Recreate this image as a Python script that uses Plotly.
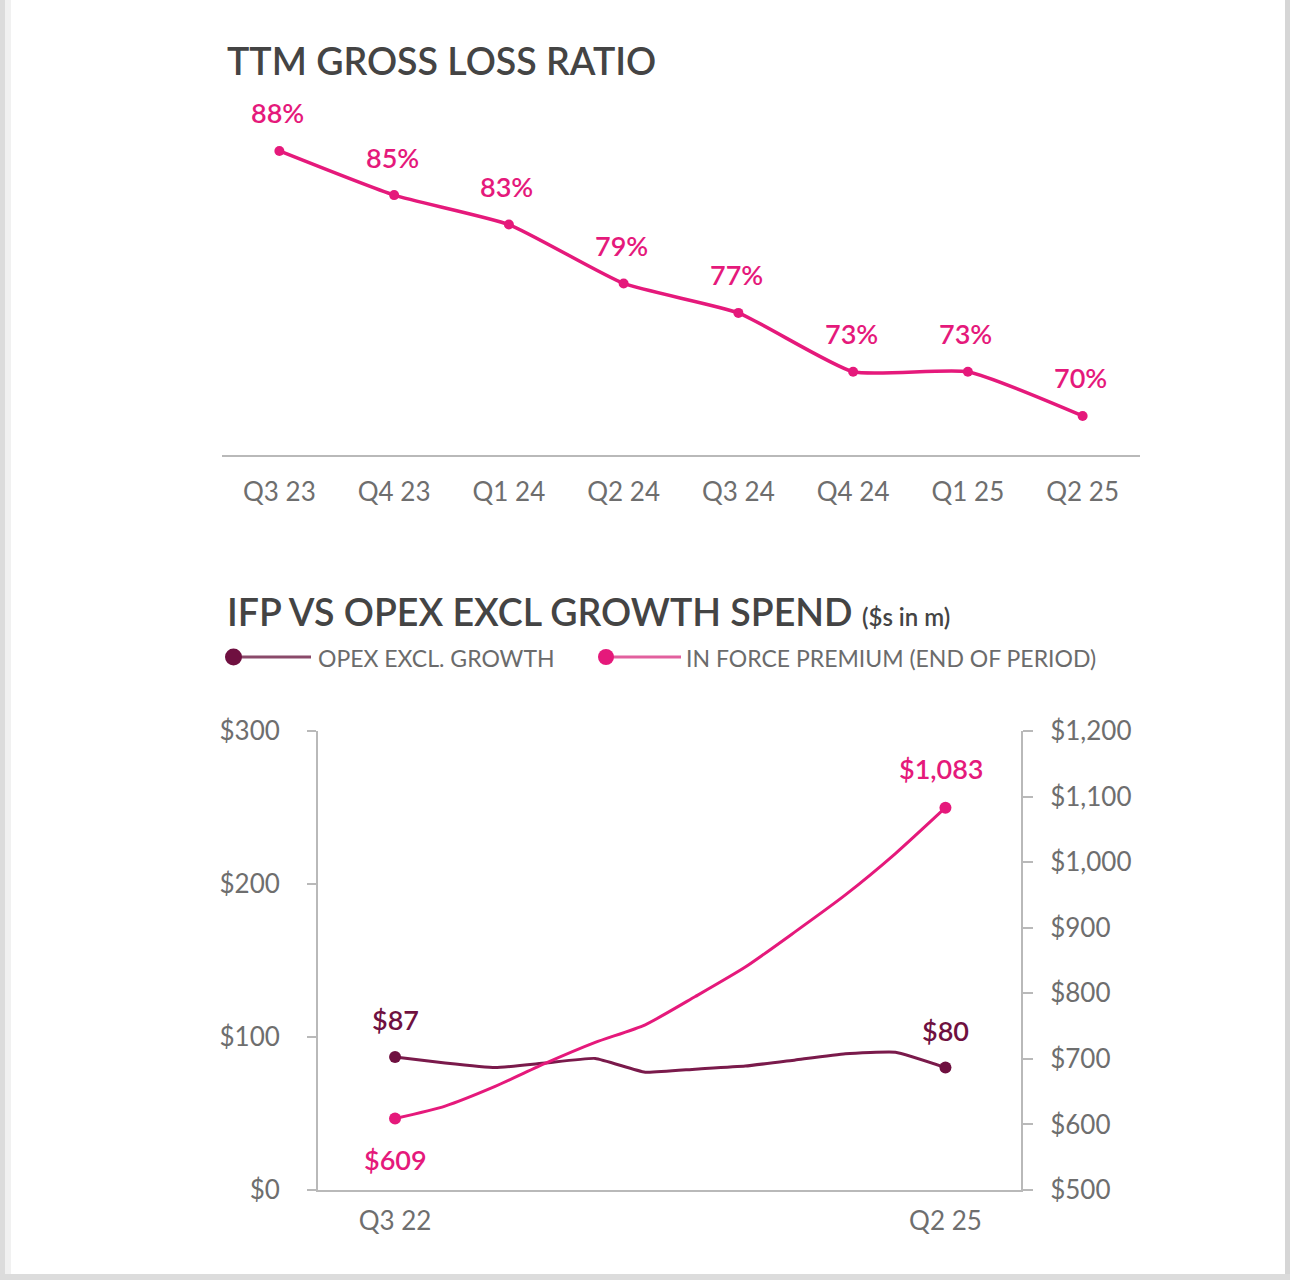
import plotly.graph_objects as go

# ---------------- data ----------------
top_quarters = ["Q3 23", "Q4 23", "Q1 24", "Q2 24", "Q3 24", "Q4 24", "Q1 25", "Q2 25"]
loss_ratio = [88, 85, 83, 79, 77, 73, 73, 70]

bottom_quarters = ["Q3 22", "Q4 22", "Q1 23", "Q2 23", "Q3 23", "Q4 23",
                   "Q1 24", "Q2 24", "Q3 24", "Q4 24", "Q1 25", "Q2 25"]
opex_excl_growth = [87, 83, 80, 83, 86, 77, 79, 81, 85, 89, 90, 80]
in_force_premium = [609, 628, 658, 693, 725, 752, 795, 840, 894, 950, 1013, 1083]

left_ticks = [0, 100, 200, 300]
right_ticks = [500, 600, 700, 800, 900, 1000, 1100, 1200]

# ---------------- style ----------------
W, H = 1290, 1280
PINK = "#E5197B"
DARK = "#6F1040"
DARK_LINE = "#7A1A4B"
GREY_TXT = "#6b6b6b"
TITLE_TXT = "#444444"
AXIS = "#b9b9b9"
FONT = "Lato"


def px(x):
    return x / W


def py(y):
    return 1 - y / H


fig = go.Figure()

# top chart
fig.add_trace(go.Scatter(
    x=top_quarters, y=loss_ratio, mode="lines+markers",
    line=dict(color=PINK, width=3.5, shape="spline", smoothing=0.5),
    marker=dict(color=PINK, size=10),
    xaxis="x", yaxis="y", showlegend=False, hoverinfo="skip"))

# bottom chart
fig.add_trace(go.Scatter(
    x=bottom_quarters, y=opex_excl_growth, mode="lines",
    line=dict(color=DARK_LINE, width=3, shape="spline", smoothing=0.4),
    xaxis="x2", yaxis="y2", showlegend=False, hoverinfo="skip"))
fig.add_trace(go.Scatter(
    x=[bottom_quarters[0], bottom_quarters[-1]],
    y=[opex_excl_growth[0], opex_excl_growth[-1]], mode="markers",
    marker=dict(color=DARK, size=12),
    xaxis="x2", yaxis="y2", showlegend=False, hoverinfo="skip"))
fig.add_trace(go.Scatter(
    x=bottom_quarters, y=in_force_premium, mode="lines",
    line=dict(color=PINK, width=3, shape="spline", smoothing=0.6),
    xaxis="x2", yaxis="y3", showlegend=False, hoverinfo="skip"))
fig.add_trace(go.Scatter(
    x=[bottom_quarters[0], bottom_quarters[-1]],
    y=[in_force_premium[0], in_force_premium[-1]], mode="markers",
    marker=dict(color=PINK, size=12),
    xaxis="x2", yaxis="y3", showlegend=False, hoverinfo="skip"))

LABEL_SIZE = 27
annotations = []
# top value labels
for q, v in zip(top_quarters, loss_ratio):
    annotations.append(dict(
        x=q, y=v, xref="x", yref="y", text=f"{v}%", showarrow=False,
        yshift=38, xshift=-2,
        font=dict(family=FONT, size=LABEL_SIZE, color=PINK, weight=600)))

# bottom value labels
annotations += [
    dict(x=bottom_quarters[0], y=opex_excl_growth[0], xref="x2", yref="y2",
         text=f"${opex_excl_growth[0]}", showarrow=False, yshift=37,
         font=dict(family=FONT, size=LABEL_SIZE, color=DARK, weight=600)),
    dict(x=bottom_quarters[-1], y=opex_excl_growth[-1], xref="x2", yref="y2",
         text=f"${opex_excl_growth[-1]}", showarrow=False, yshift=37,
         font=dict(family=FONT, size=LABEL_SIZE, color=DARK, weight=600)),
    dict(x=bottom_quarters[0], y=in_force_premium[0], xref="x2", yref="y3",
         text=f"${in_force_premium[0]:,}", showarrow=False, yshift=-41,
         font=dict(family=FONT, size=LABEL_SIZE, color=PINK, weight=600)),
    dict(x=bottom_quarters[-1], y=in_force_premium[-1], xref="x2", yref="y3",
         text=f"${in_force_premium[-1]:,}", showarrow=False, yshift=39, xshift=-4,
         font=dict(family=FONT, size=LABEL_SIZE, color=PINK, weight=600)),
]

# titles
annotations += [
    dict(x=px(225), y=py(61), xref="paper", yref="paper", xanchor="left",
         yanchor="middle", showarrow=False, text="TTM GROSS LOSS RATIO",
         font=dict(family=FONT, size=37.5, color=TITLE_TXT, weight=600)),
    dict(x=px(225), y=py(611), xref="paper", yref="paper", xanchor="left",
         yanchor="middle", showarrow=False,
         text="IFP VS OPEX EXCL GROWTH SPEND <span style='font-size:24px'>($s in m)</span>",
         font=dict(family=FONT, size=37.5, color=TITLE_TXT, weight=600)),
]

# manual legend
annotations += [
    dict(x=px(316), y=py(658), xref="paper", yref="paper", xanchor="left",
         yanchor="middle", showarrow=False, text="OPEX EXCL. GROWTH",
         font=dict(family=FONT, size=23, color=GREY_TXT)),
    dict(x=px(684), y=py(658), xref="paper", yref="paper", xanchor="left",
         yanchor="middle", showarrow=False, text="IN FORCE PREMIUM (END OF PERIOD)",
         font=dict(family=FONT, size=23, color=GREY_TXT)),
]

shapes = [
    # legend swatches
    dict(type="line", xref="paper", yref="paper", x0=px(234), x1=px(311),
         y0=py(657), y1=py(657), line=dict(color="#8a4a6a", width=3)),
    dict(type="circle", xref="paper", yref="paper", x0=px(225), x1=px(242),
         y0=py(665.5), y1=py(648.5), fillcolor=DARK, line=dict(width=0)),
    dict(type="line", xref="paper", yref="paper", x0=px(606), x1=px(681),
         y0=py(657), y1=py(657), line=dict(color="#e2609e", width=3)),
    dict(type="circle", xref="paper", yref="paper", x0=px(598), x1=px(614),
         y0=py(665), y1=py(649), fillcolor=PINK, line=dict(width=0)),
    # page frame
    dict(type="rect", xref="paper", yref="paper", x0=0, x1=px(5), y0=0, y1=1,
         fillcolor="#dcdcdc", line=dict(width=0), layer="below"),
    dict(type="rect", xref="paper", yref="paper", x0=px(5), x1=px(11), y0=0, y1=1,
         fillcolor="#f1f1f1", line=dict(width=0), layer="below"),
    dict(type="rect", xref="paper", yref="paper", x0=px(1285), x1=1, y0=0, y1=1,
         fillcolor="#d6d6d6", line=dict(width=0), layer="below"),
    dict(type="rect", xref="paper", yref="paper", x0=0, x1=1, y0=0, y1=py(1274),
         fillcolor="#dcdcdc", line=dict(width=0), layer="below"),
]

tick_font = dict(family=FONT, size=26, color="#6e6e6e")

fig.update_layout(
    template="none",
    width=W, height=H,
    margin=dict(l=0, r=0, t=0, b=0, pad=0, autoexpand=False),
    paper_bgcolor="white", plot_bgcolor="white",
    showlegend=False,
    annotations=annotations,
    shapes=shapes,
    xaxis=dict(
        domain=[px(222), px(1140)], anchor="y", automargin=False,
        type="category", range=[-0.5, len(top_quarters) - 0.5],
        showline=True, linecolor=AXIS, linewidth=2,
        showgrid=False, zeroline=False, ticks="",
        tickfont=tick_font, ticklabelstandoff=13,
    ),
    yaxis=dict(
        domain=[py(455), py(100)], anchor="x", automargin=False,
        range=[67.35, 91.46], visible=False,
    ),
    xaxis2=dict(
        domain=[px(318), px(1021)], anchor="y2", automargin=False,
        type="category", range=[-1.54, 12.51],
        tickvals=[bottom_quarters[0], bottom_quarters[-1]],
        ticktext=[bottom_quarters[0], bottom_quarters[-1]],
        showline=True, linecolor=AXIS, linewidth=2,
        showgrid=False, zeroline=False, ticks="",
        tickfont=tick_font, ticklabelstandoff=7,
    ),
    yaxis2=dict(
        domain=[py(1190), py(731)], anchor="x2", automargin=False,
        range=[0, 300], tickvals=left_ticks,
        ticktext=[f"${t:,}" for t in left_ticks],
        showline=True, linecolor=AXIS, linewidth=2,
        ticks="outside", ticklen=9, tickcolor=AXIS, tickwidth=2,
        showgrid=False, zeroline=False,
        tickfont=tick_font, ticklabelstandoff=22,
    ),
    yaxis3=dict(
        overlaying="y2", side="right", anchor="x2", automargin=False,
        range=[500, 1200], tickvals=right_ticks,
        ticktext=[f"${t:,}" for t in right_ticks],
        showline=True, linecolor=AXIS, linewidth=2,
        ticks="outside", ticklen=10, tickcolor=AXIS, tickwidth=2,
        showgrid=False, zeroline=False,
        tickfont=tick_font, ticklabelstandoff=12,
    ),
)

fig.write_html("out.html")
